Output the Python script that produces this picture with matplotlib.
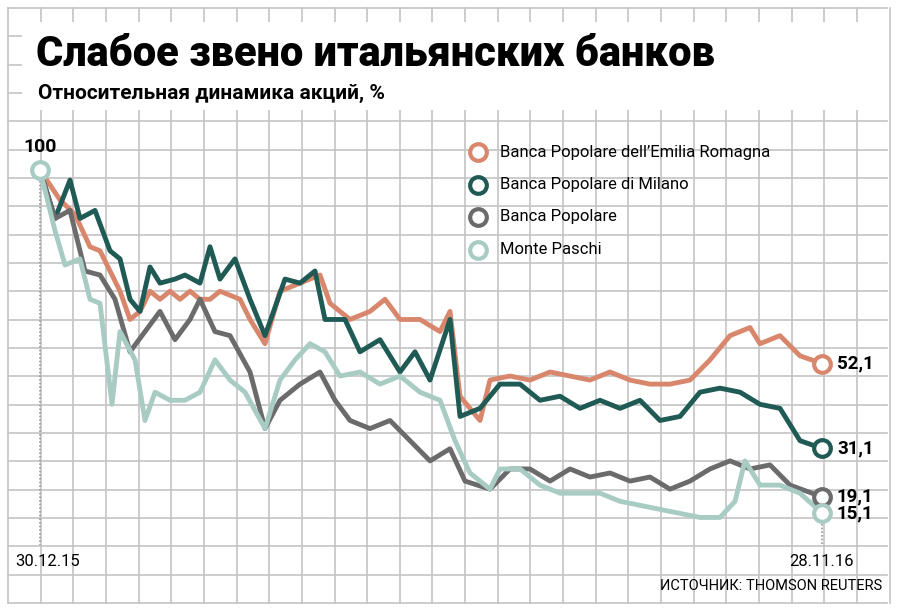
import matplotlib.pyplot as plt
from matplotlib.patches import Rectangle

W, H = 900, 615

# x positions are on a 0..782 time scale (30.12.15 .. 28.11.16)
bper_x = [0, 20, 35, 50, 60, 70, 80, 90, 100, 110, 120, 130, 140, 150, 160, 170, 180, 200, 210, 225,
          240, 260, 280, 290, 310, 330, 345, 360, 380, 400, 410, 420, 440, 450, 470, 490, 510, 530, 550,
          570, 590, 610, 630, 650, 670, 690, 710, 720, 740, 760, 782]
bper_v = [100, 92.6, 89, 81, 80, 75, 70, 63, 65, 70, 68, 70, 68, 70, 68, 68, 70, 68, 63, 57,
          70, 72, 74, 67, 63, 65, 68, 63, 63, 60, 65, 44, 38, 48, 49, 48, 50, 49, 48,
          50, 48, 47, 47, 48, 53, 59, 61, 57, 59, 54, 52.1]

bpm_x = [0, 15, 30, 40, 55, 70, 80, 90, 100, 110, 120, 135, 145, 160, 170, 180, 195, 210, 225, 245,
         260, 275, 285, 305, 320, 340, 360, 375, 390, 410, 420, 440, 460, 480, 500, 520, 540, 560,
         580, 600, 620, 640, 660, 680, 700, 720, 740, 760, 782]
bpm_v = [100, 88, 97.5, 88, 90, 80, 78, 68, 65, 76, 72, 73, 74, 72, 81, 73, 78, 68, 59, 73,
         72, 75, 63, 63, 55, 58, 50, 55, 48, 63, 39, 41, 47, 47, 43, 44, 41, 43,
         41, 43, 38, 39, 45, 46, 45, 42, 41, 33, 31.1]

bp_x = [0, 15, 30, 45, 60, 75, 90, 105, 120, 135, 150, 160, 175, 190, 210, 225, 240, 260, 280, 295,
        310, 330, 350, 370, 390, 410, 425, 450, 470, 490, 510, 530, 550, 570, 590, 610, 630, 650,
        670, 690, 710, 730, 750, 782]
bp_v = [100, 88, 90, 75, 74, 68, 55, 60, 65, 58, 63, 68, 60, 59, 50, 36, 43, 47, 50, 43,
        38, 36, 38, 33, 28, 31, 23, 21, 26, 26, 23, 26, 24, 25, 23, 24, 21, 23,
        26, 28, 26, 27, 22, 19.1]

mps_x = [0, 15, 25, 40, 50, 60, 72, 80, 95, 105, 115, 130, 145, 160, 175, 190, 205, 225, 240, 255,
         270, 285, 300, 320, 340, 360, 380, 400, 415, 430, 450, 460, 480, 500, 520, 540, 560, 580,
         600, 620, 640, 660, 680, 695, 705, 720, 740, 760, 782]
mps_v = [100, 85, 76.5, 78, 68, 67, 42, 60, 53, 38, 45, 43, 43, 45, 53, 48, 45, 36, 48, 53,
         57, 55, 49, 50, 47, 49, 45, 43, 33, 25, 21, 26, 26, 22, 20, 20, 20, 18,
         17, 16, 15, 14, 14, 18, 28, 22, 22, 20, 15.1]

names = ["Banca Popolare dell\u2019Emilia Romagna", "Banca Popolare di Milano",
         "Banca Popolare", "Monte Paschi"]
colors = ["#d9876c", "#1f5a55", "#6b6b6b", "#a8cbc4"]
end_labels = ["52,1", "31,1", "19,1", "15,1"]

fig = plt.figure(figsize=(9, 6.15), dpi=100)

# background grid in pixel coordinates
bg = fig.add_axes([0, 0, 1, 1])
bg.set_xlim(0, W)
bg.set_ylim(H, 0)
bg.axis("off")
gx = [8 + 32.65 * i for i in range(28)]
gy = [8 + 28.33 * i for i in range(22)]
for x in gx:
    bg.plot([x, x], [8, 603], color="#c4c4c4", lw=1.2, zorder=0)
for y in gy:
    bg.plot([8, 887], [y, y], color="#c4c4c4", lw=1.2, zorder=0)
bg.add_patch(Rectangle((22, 22), 866, 88, facecolor="white", edgecolor="none", zorder=1))
bg.text(36, 55, "Слабое звено итальянских банков", fontsize=30, fontweight="heavy",
        family="Roboto", va="center", zorder=2)
bg.text(38, 93, "Относительная динамика акций, %", fontsize=15, fontweight="bold",
        family="Roboto", va="center", zorder=2)
bg.plot([40, 40], [170, 545], color="#999999", lw=1.2, ls=(0, (1, 1.2)), zorder=1)
bg.plot([822, 822], [513, 545], color="#999999", lw=1.2, ls=(0, (1, 1.2)), zorder=1)
bg.text(48, 562, "30.12.15", fontsize=12, family="Roboto", ha="center", va="center")
bg.text(822, 562, "28.11.16", fontsize=12, family="Roboto", ha="center", va="center")
bg.text(882, 586, "ИСТОЧНИК: THOMSON REUTERS", fontsize=10.5, family="Roboto",
        ha="right", va="center")
bg.text(40, 147, "100", fontsize=14, fontweight="bold", family="Roboto", ha="center", va="center")

# data axes: x 0..782 -> px 40..822, y 0..100 -> px 574..170
ax = fig.add_axes([40 / W, (H - 574) / H, 782 / W, 404 / H])
ax.set_xlim(0, 782)
ax.set_ylim(0, 100)
ax.axis("off")
ax.patch.set_alpha(0)

series = [(bper_x, bper_v), (bpm_x, bpm_v), (bp_x, bp_v), (mps_x, mps_v)]
for (xs, vs), c, lab in zip(series, colors, end_labels):
    ax.plot(xs, vs, color=c, lw=3.5, solid_joinstyle="round", clip_on=False)
    ax.plot([xs[-1]], [vs[-1]], "o", ms=12, mfc="white", mec=c, mew=3, clip_on=False, zorder=5)
    ax.text(xs[-1] + 15, vs[-1], lab, fontsize=13.5, fontweight="bold", family="Roboto",
            va="center")
ax.plot([0], [100], "o", ms=12, mfc="white", mec=colors[3], mew=3, clip_on=False, zorder=6)

# legend
for i, (n, c) in enumerate(zip(names, colors)):
    y = 152 + 32.5 * i
    bg.plot([478], [y], "o", ms=12, mfc="white", mec=c, mew=3, zorder=3)
    bg.text(500, y, n, fontsize=12, family="Roboto", va="center", zorder=3)

fig.savefig("out.png", dpi=100)
